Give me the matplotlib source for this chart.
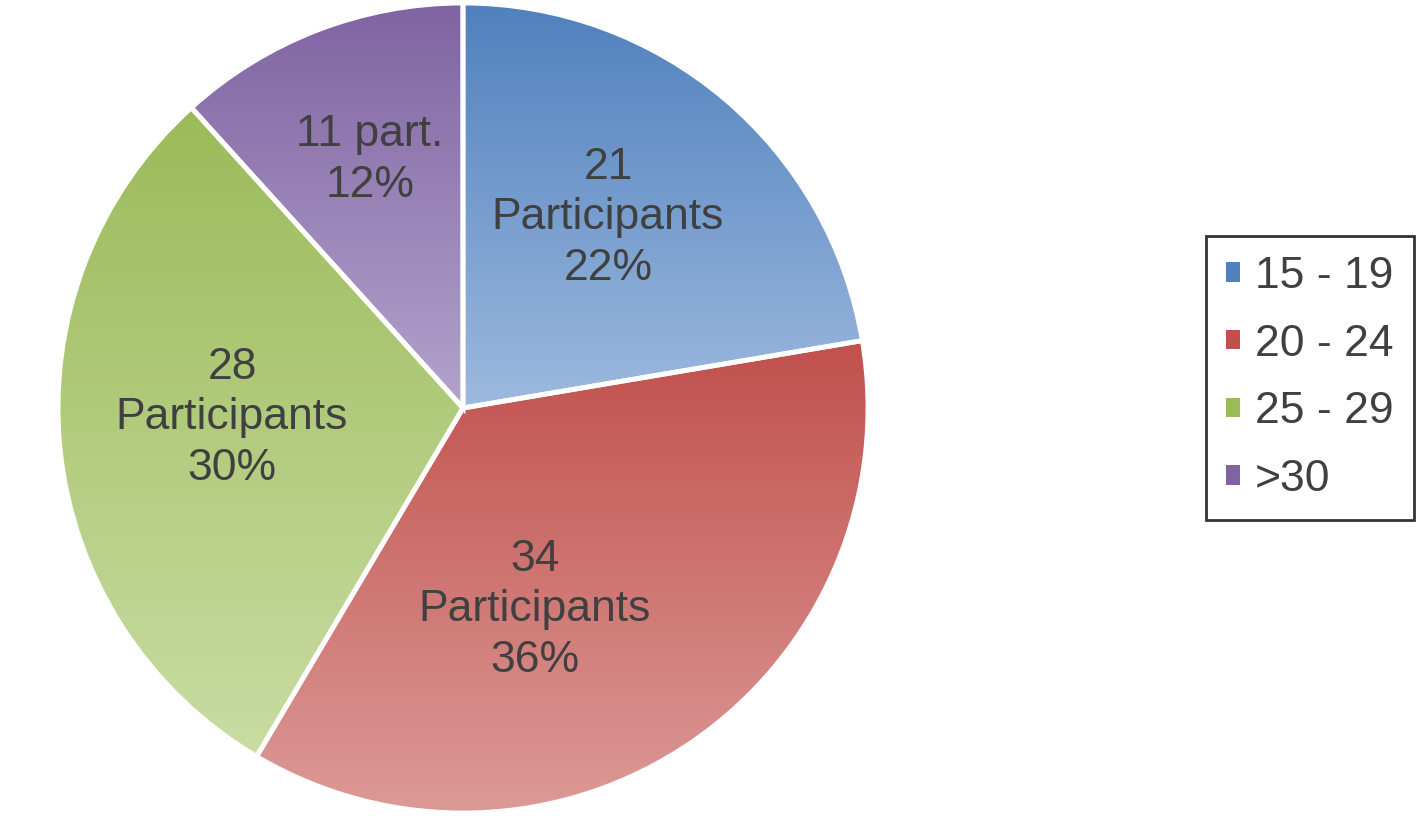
import matplotlib
matplotlib.use("Agg")
import matplotlib.pyplot as plt
import numpy as np
from matplotlib.colors import LinearSegmentedColormap
from matplotlib.patches import Patch

categories = ["15 - 19", "20 - 24", "25 - 29", ">30"]
counts = [21, 34, 28, 11]
labels = ["21\nParticipants\n22%", "34\nParticipants\n36%", "28\nParticipants\n30%", "11 part.\n12%"]
top_colors = ["#4F81BD", "#C0504D", "#9BBB59", "#8064A2"]
bottom_colors = ["#9DB9DF", "#DC9A97", "#C9DCA3", "#B2A3CC"]
label_pos = [(608, 218), (535, 610), (232, 418), (370, 160)]

plt.rcParams['font.family'] = ['Liberation Sans', 'DejaVu Sans']
fig = plt.figure(figsize=(14.23, 8.27), dpi=100)
ax = fig.add_axes([0, 0, 1, 1])
ax.set_xlim(0, 1423); ax.set_ylim(0, 827); ax.set_aspect('equal'); ax.axis('off')

wedges, texts = ax.pie(counts, startangle=90, counterclock=False, center=(463, 419), radius=405,
                       labels=labels, labeldistance=0.57,
                       wedgeprops=dict(edgecolor='white', linewidth=3.5),
                       textprops=dict(fontsize=32, color='#404040', ha='center', va='center', linespacing=1.3))
for t, (px, py) in zip(texts, label_pos):
    t.set_multialignment('center')
    t.set_position((px, 827 - py))

for w, tc, bc in zip(wedges, top_colors, bottom_colors):
    w.set_facecolor('none')
    bb = w.get_path().get_extents(w.get_patch_transform())
    cmap = LinearSegmentedColormap.from_list('g', [tc, bc])
    grad = np.linspace(0, 1, 256).reshape(-1, 1)
    im = ax.imshow(grad, cmap=cmap, extent=(bb.x0, bb.x1, bb.y0, bb.y1), origin='upper',
                   aspect='auto', zorder=0.5)
    im.set_clip_path(w)
    w.set_zorder(1)
ax.set_xlim(0, 1423); ax.set_ylim(0, 827)

handles = [Patch(facecolor=c, edgecolor='none') for c in top_colors]
leg = fig.legend(handles, categories, loc='center', bbox_to_anchor=(1310/1423, 1 - 378/827),
                 fontsize=32, frameon=True, fancybox=False, handlelength=0.3, handleheight=0.3,
                 handletextpad=0.35, labelspacing=0.6, borderpad=0.45, borderaxespad=0,
                 labelcolor='#404040')
leg.get_frame().set_edgecolor('black'); leg.get_frame().set_linewidth(2)
fig.savefig('out.png', dpi=100)
